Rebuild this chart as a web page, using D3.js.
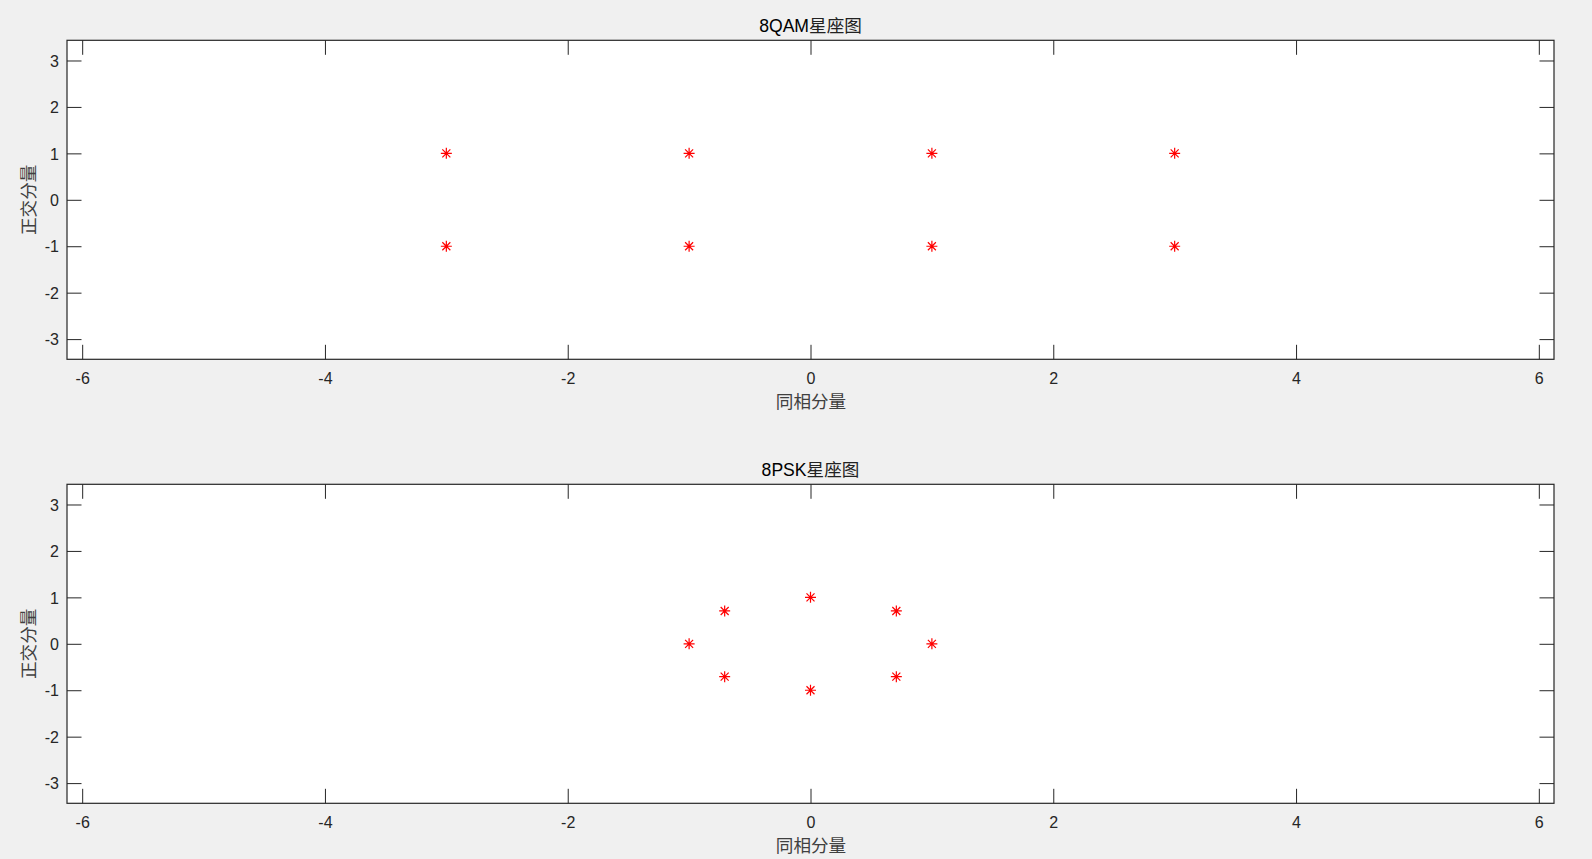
<!DOCTYPE html>
<html>
<head>
<meta charset="utf-8">
<script src="https://cdn.jsdelivr.net/npm/d3@7"></script>
<style>
  html, body { margin: 0; padding: 0; background: #f0f0f0; }
  svg { display: block; }
</style>
</head>
<body>
<svg id="chart" width="1592" height="859"></svg>
<script>
// ---- data ----
const qamI = [-3, -1, 1, 3, -3, -1, 1, 3];
const qamQ = [1, 1, 1, 1, -1, -1, -1, -1];
const pskI = [1, 0.7071, 0, -0.7071, -1, -0.7071, 0, 0.7071];
const pskQ = [0, 0.7071, 1, 0.7071, 0, -0.7071, -1, -0.7071];
const xTicks = [-6, -4, -2, 0, 2, 4, 6];
const yTicks = [-3, -2, -1, 0, 1, 2, 3];
const titles = ["8QAM星座图", "8PSK星座图"];
const xLabel = "同相分量";
const yLabel = "正交分量";
const xDomain = [-6.125, 6.125];
const yDomain = [-3.435, 3.435];

const svg = d3.select("#chart");
const textColor = "#262626";
const latin = "'Liberation Sans', Arial, sans-serif";
const cjk = "'Noto Sans CJK SC', sans-serif";

const panels = [
  { top: 40.3, I: qamI, Q: qamQ, title: titles[0] },
  { top: 484.3, I: pskI, Q: pskQ, title: titles[1] }
];
const left = 67, right = 1554, height = 319;
const tickLen = 14.5;

panels.forEach(p => {
  const top = p.top, bottom = top + height;
  const x = d3.scaleLinear().domain(xDomain).range([left, right]);
  const y = d3.scaleLinear().domain(yDomain).range([bottom, top]);
  const g = svg.append("g");

  g.append("rect").attr("x", left).attr("y", top)
    .attr("width", right - left).attr("height", height)
    .attr("fill", "#ffffff");

  // axes using d3 axes, ticks drawn inward
  const axB = d3.axisBottom(x).tickValues(xTicks).tickSizeInner(-tickLen).tickSizeOuter(0).tickPadding(0).tickFormat(d3.format("d"));
  const axT = d3.axisTop(x).tickValues(xTicks).tickSizeInner(-tickLen).tickSizeOuter(0).tickFormat("");
  const axL = d3.axisLeft(y).tickValues(yTicks).tickSizeInner(-tickLen).tickSizeOuter(0).tickFormat(d3.format("d"));
  const axR = d3.axisRight(y).tickValues(yTicks).tickSizeInner(-tickLen).tickSizeOuter(0).tickFormat("");

  const gb = g.append("g").attr("transform", `translate(0,${bottom})`).call(axB);
  const gt = g.append("g").attr("transform", `translate(0,${top})`).call(axT);
  const gl = g.append("g").attr("transform", `translate(${left},0)`).call(axL);
  const gr = g.append("g").attr("transform", `translate(${right},0)`).call(axR);

  [gb, gt, gl, gr].forEach(a => {
    a.select(".domain").remove();
    a.selectAll(".tick line").attr("stroke", textColor).attr("stroke-width", 1);
  });
  gb.selectAll(".tick text")
    .attr("y", 25).attr("dy", 0)
    .attr("font-family", latin).attr("font-size", 16).attr("fill", textColor)
    .text(d => d < 0 ? "-" + Math.abs(d) : d);
  gl.selectAll(".tick text")
    .attr("x", -8).attr("dy", "0.36em")
    .attr("font-family", latin).attr("font-size", 16).attr("fill", textColor)
    .text(d => d < 0 ? "-" + Math.abs(d) : d);
  [gb, gl].forEach(a => a.attr("font-family", null).attr("font-size", null));

  // box
  g.append("rect").attr("x", left).attr("y", top)
    .attr("width", right - left).attr("height", height)
    .attr("fill", "none").attr("stroke", textColor).attr("stroke-width", 1.2);

  // title
  const t = g.append("text").attr("x", (left + right) / 2).attr("y", top - 8.3)
    .attr("text-anchor", "middle").attr("fill", "#000").attr("font-size", 17.6);
  const m = p.title.match(/^([\x00-\x7f]+)(.*)$/);
  t.append("tspan").attr("font-family", latin).text(m[1]);
  t.append("tspan").attr("font-family", cjk).attr("fill", "#222").text(m[2]);

  // x label
  g.append("text").attr("x", (left + right) / 2 + 0.5).attr("y", bottom + 49)
    .attr("text-anchor", "middle").attr("font-family", cjk).attr("font-size", 17.6)
    .attr("fill", "#404040").text(xLabel);

  // y label
  g.append("text").attr("transform", `translate(35,${(top + bottom) / 2}) rotate(-90)`)
    .attr("text-anchor", "middle").attr("font-family", cjk).attr("font-size", 17.6)
    .attr("fill", "#404040").text(yLabel);

  // markers '*'
  const pts = p.I.map((v, i) => [v, p.Q[i]]);
  const a = 5.5, b = 4;
  const star = `M${-a},0L${a},0M0,${-a}L0,${a}M${-b},${-b}L${b},${b}M${-b},${b}L${b},${-b}`;
  g.append("g").selectAll("path").data(pts).join("path")
    .attr("transform", d => `translate(${x(d[0])},${y(d[1])})`)
    .attr("d", star).attr("stroke", "#ff0000").attr("stroke-width", 1.2).attr("fill", "none");
});
</script>
</body>
</html>
